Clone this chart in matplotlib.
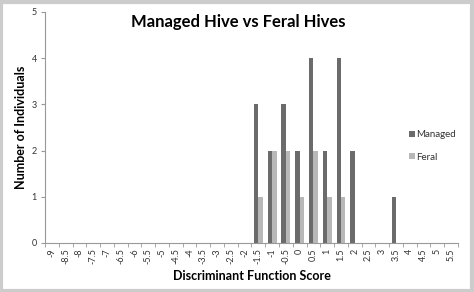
import matplotlib
matplotlib.use("Agg")
import matplotlib.pyplot as plt
import numpy as np
from matplotlib.patches import Rectangle

# score categories -9 .. 5.5
scores = ["-9", "-8.5", "-8", "-7.5", "-7", "-6.5", "-6", "-5.5", "-5", "-4.5",
          "-4", "-3.5", "-3", "-2.5", "-2", "-1.5", "-1", "-0.5", "0", "0.5",
          "1", "1.5", "2", "2.5", "3", "3.5", "4", "4.5", "5", "5.5"]
managed = [0, 0, 0, 0, 0, 0, 0, 0, 0, 0,
           0, 0, 0, 0, 0, 3, 2, 3, 2, 4,
           2, 4, 2, 0, 0, 1, 0, 0, 0, 0]
feral = [0, 0, 0, 0, 0, 0, 0, 0, 0, 0,
         0, 0, 0, 0, 0, 1, 2, 2, 1, 2,
         1, 1, 0, 0, 0, 0, 0, 0, 0, 0]

plt.rcParams['font.family'] = ['Lato', 'DejaVu Sans']

fig = plt.figure(figsize=(4.74, 2.92), dpi=100)
ax = fig.add_axes([0.095, 0.168, 0.871, 0.791])

x = np.arange(len(scores))
w = 0.32
ax.bar(x - w / 2, managed, width=w, color='#6b6b6b', label='Managed')
ax.bar(x + w / 2, feral, width=w, color='#b8b8b8', label='Feral')

ax.set_xlim(-0.5, len(scores) - 0.5)
ax.set_ylim(0, 5)
ax.set_yticks(range(6))
ax.set_xticks(x)
ax.set_xticklabels(scores, rotation=90, fontsize=6.5, color='#333333',
                   va='top')
ax.set_xticks(np.arange(-0.5, len(scores)), minor=True)
ax.tick_params(axis='x', which='major', length=0, pad=4)
ax.tick_params(axis='x', which='minor', length=3, color='#999999')
ax.tick_params(axis='y', labelsize=6.5, labelcolor='#333333', length=3,
               color='#999999', pad=3)

for s in ['top', 'right']:
    ax.spines[s].set_visible(False)
for s in ['left', 'bottom']:
    ax.spines[s].set_color('#999999')
    ax.spines[s].set_linewidth(0.8)

ax.set_xlabel('Discriminant Function Score', fontsize=9, fontweight='bold',
              labelpad=4)
ax.set_ylabel('Number of Individuals', fontsize=9, fontweight='bold',
              labelpad=3)
fig.text(0.502, 0.925, 'Managed Hive vs Feral Hives', fontsize=12,
         fontweight='bold', ha='center', va='center')

leg = ax.legend(loc='center left', bbox_to_anchor=(0.86, 0.42), frameon=False,
                fontsize=7, handlelength=0.6, handleheight=0.6,
                handletextpad=0.2, labelspacing=1.4)
for t in leg.get_texts():
    t.set_color('#333333')

# gray frame around the chart
fig.patches.append(Rectangle((0.003, 0.004), 0.993, 0.99, transform=fig.transFigure,
                             fill=False, edgecolor='#cccccc', linewidth=3))

fig.savefig('out.png', dpi=100)
